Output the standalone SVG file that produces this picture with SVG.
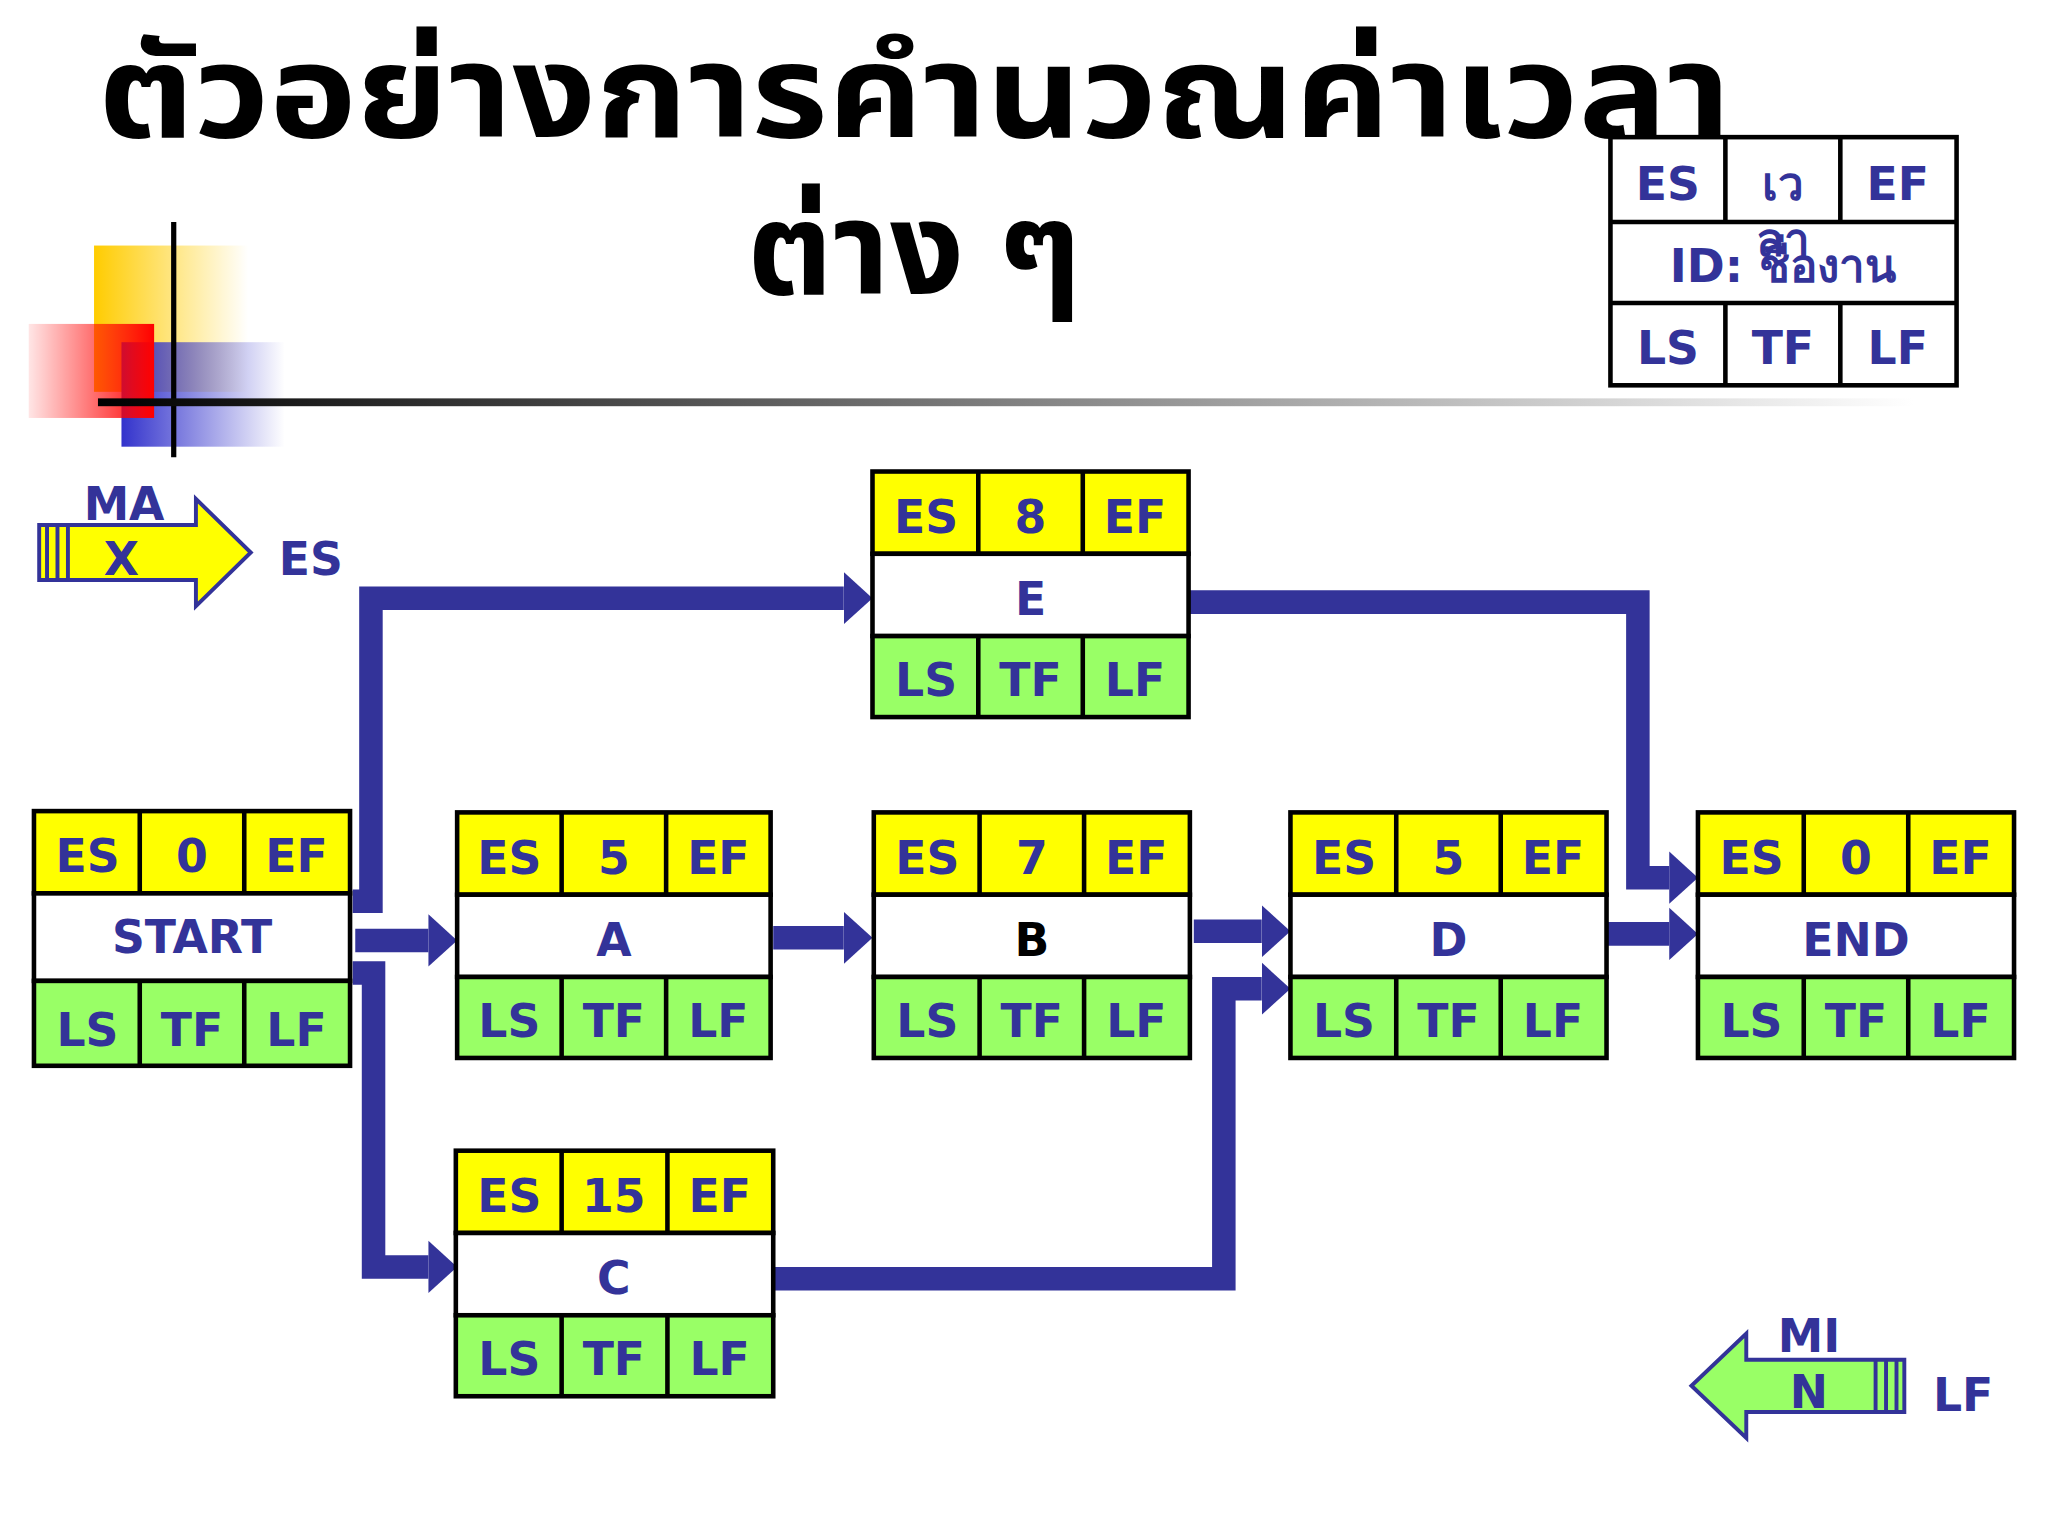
<svg xmlns="http://www.w3.org/2000/svg" width="2048" height="1536" viewBox="0 0 2048 1536">
<style>
.c{stroke:#000;stroke-width:3.5}
.y{fill:#ffff00}.g{fill:#99ff66}.w{fill:#fff}
.t{font-family:"DejaVu Sans",Verdana,sans-serif;font-weight:bold;font-size:35px;fill:#333399;text-anchor:middle}
.k{fill:#000}
.cn{fill:none;stroke:#333399;stroke-width:18}
</style>
<defs>
<marker id="ah" markerUnits="userSpaceOnUse" markerWidth="24" markerHeight="44" refX="0" refY="22" orient="auto" viewBox="0 0 24 44"><path d="M0,2 L22,22 L0,42 Z" fill="#333399"/></marker>
<linearGradient id="gy" x1="0" x2="1" y1="0" y2="0"><stop offset="0" stop-color="#ffcc00"/><stop offset="1" stop-color="#ffcc00" stop-opacity="0"/></linearGradient>
<linearGradient id="gr" x1="0" x2="1" y1="0" y2="0"><stop offset="0" stop-color="#ff0000" stop-opacity="0.1"/><stop offset="1" stop-color="#ff0000"/></linearGradient>
<linearGradient id="gb" x1="0" x2="1" y1="0" y2="0"><stop offset="0" stop-color="#3333cc"/><stop offset="1" stop-color="#3333cc" stop-opacity="0"/></linearGradient>
<linearGradient id="gl" x1="0" x2="1" y1="0" y2="0"><stop offset="0" stop-color="#000"/><stop offset="0.6" stop-color="#999"/><stop offset="1" stop-color="#fff"/></linearGradient>
</defs>
<rect width="2048" height="1536" fill="#fff"/>
<g transform="scale(1.30612)">
<g id="deco">
<rect x="72" y="188" width="118" height="112" fill="url(#gy)"/>
<rect x="93" y="262" width="125" height="80" fill="url(#gb)"/>
<rect x="22" y="248" width="96" height="72" fill="url(#gr)"/>
<line x1="133" y1="170" x2="133" y2="350" stroke="#000" stroke-width="4"/>
<rect x="75" y="305" width="1390" height="6" fill="url(#gl)"/>
</g>
<g id="title" font-family="'Noto Sans Thai','Noto Sans','DejaVu Sans',sans-serif" font-weight="bold" font-size="100" text-anchor="middle" fill="#000">
<text x="700" y="105" textLength="1250" lengthAdjust="spacingAndGlyphs">ตัวอย่างการคำนวณค่าเวลา</text>
<text x="700" y="225">ต่าง ๆ</text>
</g>
<g id="legend">
<rect x="1233" y="105" width="265" height="190" class="w c"/>
<line x1="1233" y1="170" x2="1498" y2="170" class="c"/><line x1="1233" y1="232" x2="1498" y2="232" class="c"/>
<line x1="1321" y1="105" x2="1321" y2="170" class="c"/><line x1="1409" y1="105" x2="1409" y2="170" class="c"/>
<line x1="1321" y1="232" x2="1321" y2="295" class="c"/><line x1="1409" y1="232" x2="1409" y2="295" class="c"/>
<text class="t" x="1277" y="153">ES</text><text class="t" x="1365" y="153" font-family="'Noto Sans Thai','Noto Sans',sans-serif" font-size="32">เว</text><text class="t" x="1453" y="153">EF</text>
<text class="t" x="1365" y="196" font-family="'Noto Sans Thai','Noto Sans',sans-serif" font-size="32">ลา</text>
<text class="t" x="1365" y="216" font-family="'Noto Sans Thai','Noto Sans','DejaVu Sans',sans-serif" font-size="34">ID: ชื่องาน</text>
<text class="t" x="1277" y="279">LS</text><text class="t" x="1365" y="279">TF</text><text class="t" x="1453" y="279">LF</text>
</g>
<g id="connectors">
<polyline class="cn" points="270,690 284,690 284,458 646,458" marker-end="url(#ah)"/>
<polyline class="cn" points="272,720 328,720" marker-end="url(#ah)"/>
<polyline class="cn" points="270,745 286,745 286,970 328,970" marker-end="url(#ah)"/>
<polyline class="cn" points="592,718 646,718" marker-end="url(#ah)"/>
<polyline class="cn" points="914,713 966,713" marker-end="url(#ah)"/>
<polyline class="cn" points="592,979 937,979 937,757 966,757" marker-end="url(#ah)"/>
<polyline class="cn" points="910,461 1254,461 1254,672 1278,672" marker-end="url(#ah)"/>
<polyline class="cn" points="1230,715 1278,715" marker-end="url(#ah)"/>
</g>
<g id="node-E" transform="translate(668,361)">
<rect width="242" height="63" class="y c"/><rect y="63" width="242" height="63" class="w c"/><rect y="126" width="242" height="62" class="g c"/>
<line x1="81" y1="0" x2="81" y2="63" class="c"/><line x1="161" y1="0" x2="161" y2="63" class="c"/><line x1="81" y1="126" x2="81" y2="188" class="c"/><line x1="161" y1="126" x2="161" y2="188" class="c"/>
<text class="t" x="41" y="47">ES</text><text class="t" x="121" y="47">8</text><text class="t" x="201" y="47">EF</text>
<text class="t" x="121" y="110">E</text>
<text class="t" x="41" y="172">LS</text><text class="t" x="121" y="172">TF</text><text class="t" x="201" y="172">LF</text>
</g>
<g id="node-START" transform="translate(26,621)">
<rect width="242" height="63" class="y c"/><rect y="63" width="242" height="67" class="w c"/><rect y="130" width="242" height="65" class="g c"/>
<line x1="81" y1="0" x2="81" y2="63" class="c"/><line x1="161" y1="0" x2="161" y2="63" class="c"/><line x1="81" y1="130" x2="81" y2="195" class="c"/><line x1="161" y1="130" x2="161" y2="195" class="c"/>
<text class="t" x="41" y="47">ES</text><text class="t" x="121" y="47">0</text><text class="t" x="201" y="47">EF</text>
<text class="t" x="121" y="109">START</text>
<text class="t" x="41" y="180">LS</text><text class="t" x="121" y="180">TF</text><text class="t" x="201" y="180">LF</text>
</g>
<g id="node-A" transform="translate(350,622)">
<rect width="240" height="63" class="y c"/><rect y="63" width="240" height="63" class="w c"/><rect y="126" width="240" height="62" class="g c"/>
<line x1="80" y1="0" x2="80" y2="63" class="c"/><line x1="160" y1="0" x2="160" y2="63" class="c"/><line x1="80" y1="126" x2="80" y2="188" class="c"/><line x1="160" y1="126" x2="160" y2="188" class="c"/>
<text class="t" x="40" y="47">ES</text><text class="t" x="120" y="47">5</text><text class="t" x="200" y="47">EF</text>
<text class="t" x="120" y="110">A</text>
<text class="t" x="40" y="172">LS</text><text class="t" x="120" y="172">TF</text><text class="t" x="200" y="172">LF</text>
</g>
<g id="node-B" transform="translate(669,622)">
<rect width="242" height="63" class="y c"/><rect y="63" width="242" height="63" class="w c"/><rect y="126" width="242" height="62" class="g c"/>
<line x1="81" y1="0" x2="81" y2="63" class="c"/><line x1="161" y1="0" x2="161" y2="63" class="c"/><line x1="81" y1="126" x2="81" y2="188" class="c"/><line x1="161" y1="126" x2="161" y2="188" class="c"/>
<text class="t" x="41" y="47">ES</text><text class="t" x="121" y="47">7</text><text class="t" x="201" y="47">EF</text>
<text class="t k" x="121" y="110">B</text>
<text class="t" x="41" y="172">LS</text><text class="t" x="121" y="172">TF</text><text class="t" x="201" y="172">LF</text>
</g>
<g id="node-D" transform="translate(988,622)">
<rect width="242" height="63" class="y c"/><rect y="63" width="242" height="63" class="w c"/><rect y="126" width="242" height="62" class="g c"/>
<line x1="81" y1="0" x2="81" y2="63" class="c"/><line x1="161" y1="0" x2="161" y2="63" class="c"/><line x1="81" y1="126" x2="81" y2="188" class="c"/><line x1="161" y1="126" x2="161" y2="188" class="c"/>
<text class="t" x="41" y="47">ES</text><text class="t" x="121" y="47">5</text><text class="t" x="201" y="47">EF</text>
<text class="t" x="121" y="110">D</text>
<text class="t" x="41" y="172">LS</text><text class="t" x="121" y="172">TF</text><text class="t" x="201" y="172">LF</text>
</g>
<g id="node-END" transform="translate(1300,622)">
<rect width="242" height="63" class="y c"/><rect y="63" width="242" height="63" class="w c"/><rect y="126" width="242" height="62" class="g c"/>
<line x1="81" y1="0" x2="81" y2="63" class="c"/><line x1="161" y1="0" x2="161" y2="63" class="c"/><line x1="81" y1="126" x2="81" y2="188" class="c"/><line x1="161" y1="126" x2="161" y2="188" class="c"/>
<text class="t" x="41" y="47">ES</text><text class="t" x="121" y="47">0</text><text class="t" x="201" y="47">EF</text>
<text class="t" x="121" y="110">END</text>
<text class="t" x="41" y="172">LS</text><text class="t" x="121" y="172">TF</text><text class="t" x="201" y="172">LF</text>
</g>
<g id="node-C" transform="translate(349,881)">
<rect width="243" height="63" class="y c"/><rect y="63" width="243" height="63" class="w c"/><rect y="126" width="243" height="62" class="g c"/>
<line x1="81" y1="0" x2="81" y2="63" class="c"/><line x1="162" y1="0" x2="162" y2="63" class="c"/><line x1="81" y1="126" x2="81" y2="188" class="c"/><line x1="162" y1="126" x2="162" y2="188" class="c"/>
<text class="t" x="41" y="47">ES</text><text class="t" x="121" y="47">15</text><text class="t" x="202" y="47">EF</text>
<text class="t" x="121" y="110">C</text>
<text class="t" x="41" y="172">LS</text><text class="t" x="121" y="172">TF</text><text class="t" x="202" y="172">LF</text>
</g>
<g id="max-arrow">
<path d="M30,402 H150 V382 L192,423 L150,464 V444 H30 Z" fill="#ffff00" stroke="#333399" stroke-width="3"/>
<line x1="36" y1="402" x2="36" y2="444" stroke="#333399" stroke-width="3"/><line x1="44" y1="402" x2="44" y2="444" stroke="#333399" stroke-width="3"/><line x1="52" y1="402" x2="52" y2="444" stroke="#333399" stroke-width="3"/>
<text class="t" x="95" y="398">MA</text><text class="t" x="93" y="440">X</text>
<text class="t" x="238" y="440">ES</text>
</g>
<g id="min-arrow">
<path d="M1458,1041 H1337 V1021 L1295,1061 L1337,1101 V1081 H1458 Z" fill="#99ff66" stroke="#333399" stroke-width="3"/>
<line x1="1452" y1="1041" x2="1452" y2="1081" stroke="#333399" stroke-width="3"/><line x1="1444" y1="1041" x2="1444" y2="1081" stroke="#333399" stroke-width="3"/><line x1="1436" y1="1041" x2="1436" y2="1081" stroke="#333399" stroke-width="3"/>
<text class="t" x="1385" y="1035">MI</text><text class="t" x="1385" y="1078">N</text>
<text class="t" x="1503" y="1080">LF</text>
</g>
</g>
</svg>
